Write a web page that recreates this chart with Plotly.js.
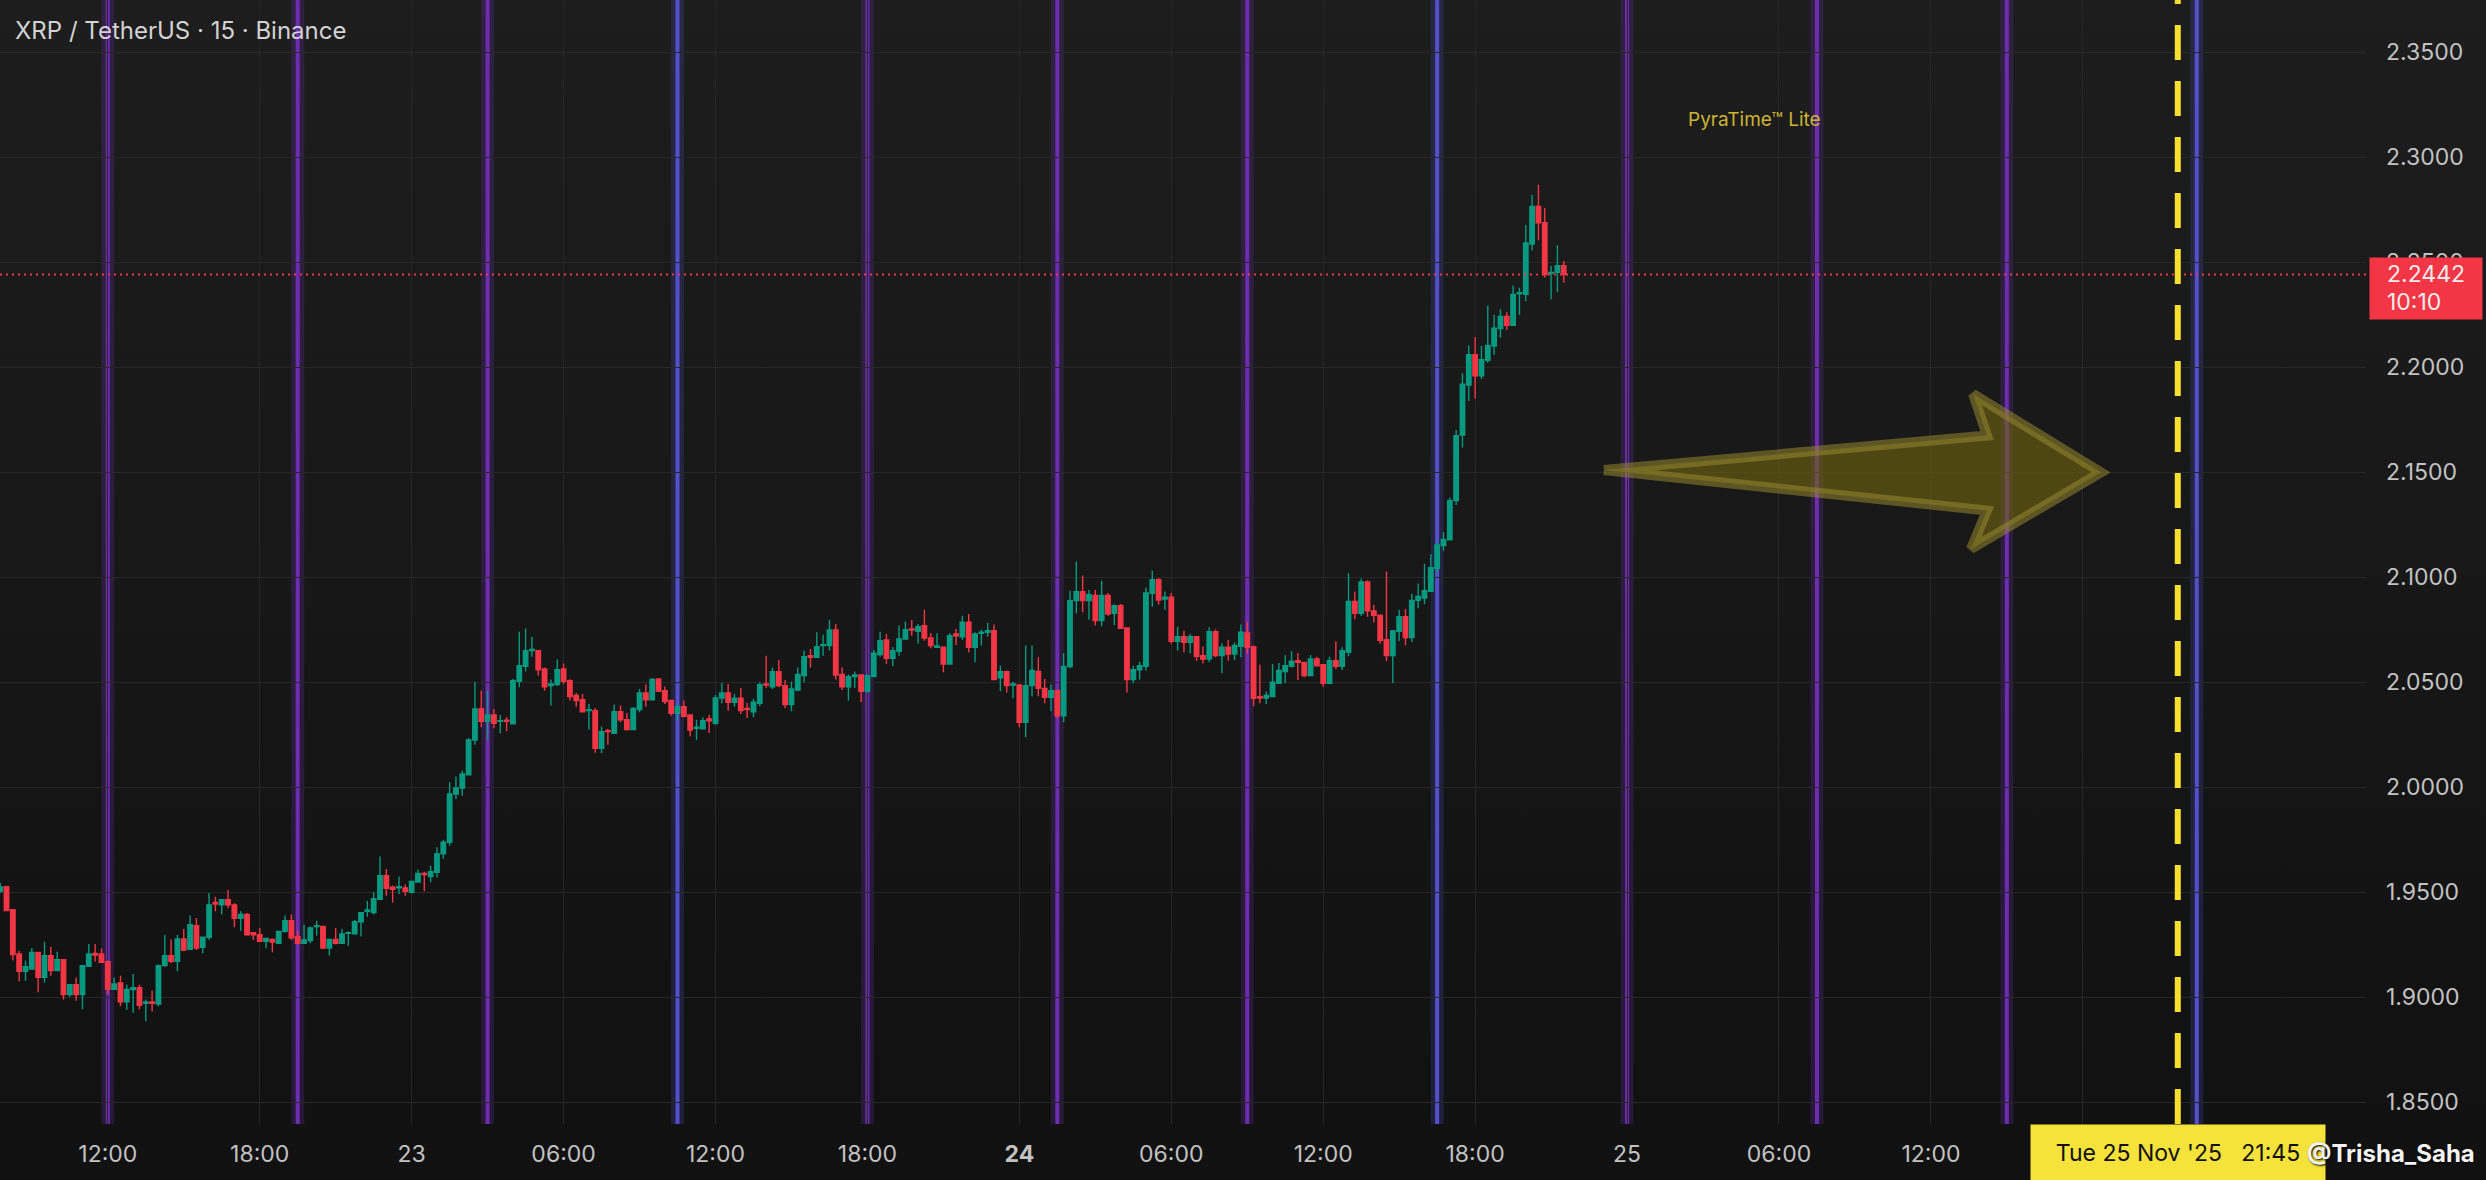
<!DOCTYPE html>
<html><head><meta charset="utf-8">
<script src="https://cdn.plot.ly/plotly-3.0.1.min.js"></script>
<style>
html,body{margin:0;padding:0;width:2486px;height:1180px;overflow:hidden;
background:linear-gradient(180deg,#1d1d1d 0%,#181818 45%,#121212 85%,#111111 100%);}
#chart{width:2486px;height:1180px}
</style></head><body><div id="chart"></div>
<script>
// ---- data: 15-minute XRP/USDT candles, first candle 22 Nov 2025 07:45 ----
const firstCandle = '2025-11-22T07:45:00Z';
const candleMinutes = 15;
const openP = [1.9505,1.9527,1.9417,1.9206,1.9124,1.9135,1.9213,1.9095,1.9198,1.9127,1.9179,1.9013,1.9060,1.9013,1.9148,1.9209,1.9206,1.9170,1.9038,1.9068,1.8979,1.9037,1.9046,1.8971,1.8978,1.8968,1.9151,1.9198,1.9171,1.9278,1.9229,1.9341,1.9238,1.9286,1.9452,1.9441,1.9465,1.9440,1.9376,1.9394,1.9308,1.9298,1.9267,1.9276,1.9257,1.9314,1.9365,1.9289,1.9257,1.9270,1.9337,1.9337,1.9235,1.9275,1.9257,1.9305,1.9302,1.9360,1.9410,1.9403,1.9467,1.9579,1.9524,1.9521,1.9521,1.9500,1.9549,1.9590,1.9575,1.9595,1.9683,1.9738,1.9968,1.9997,2.0060,2.0225,2.0373,2.0314,2.0344,2.0314,2.0320,2.0302,2.0505,2.0576,2.0651,2.0651,2.0563,2.0484,2.0489,2.0563,2.0508,2.0437,2.0417,2.0365,2.0365,2.0186,2.0270,2.0257,2.0360,2.0322,2.0275,2.0370,2.0449,2.0417,2.0516,2.0460,2.0413,2.0352,2.0384,2.0344,2.0281,2.0278,2.0325,2.0305,2.0425,2.0449,2.0405,2.0424,2.0376,2.0360,2.0400,2.0492,2.0479,2.0551,2.0484,2.0394,2.0463,2.0532,2.0627,2.0619,2.0675,2.0675,2.0749,2.0537,2.0479,2.0527,2.0535,2.0457,2.0527,2.0632,2.0702,2.0614,2.0648,2.0706,2.0754,2.0743,2.0770,2.0711,2.0667,2.0667,2.0587,2.0730,2.0717,2.0786,2.0667,2.0733,2.0738,2.0746,2.0521,2.0551,2.0487,2.0487,2.0310,2.0484,2.0552,2.0471,2.0429,2.0460,2.0341,2.0575,2.0889,2.0932,2.0889,2.0913,2.0794,2.0913,2.0829,2.0865,2.0759,2.0513,2.0560,2.0576,2.0924,2.0989,2.0897,2.0905,2.0695,2.0717,2.0690,2.0717,2.0627,2.0611,2.0741,2.0627,2.0667,2.0635,2.0671,2.0735,2.0670,2.0432,2.0425,2.0432,2.0495,2.0551,2.0576,2.0603,2.0595,2.0532,2.0611,2.0584,2.0495,2.0603,2.0576,2.0643,2.0885,2.0829,2.0978,2.0840,2.0820,2.0703,2.0627,2.0743,2.0812,2.0713,2.0890,2.0901,2.0933,2.1043,2.1151,2.1178,2.1365,2.1677,2.1915,2.2060,2.1959,2.2033,2.2101,2.2184,2.2242,2.2200,2.2350,2.2347,2.2587,2.2766,2.2688,2.2447,2.2452,2.2484];
const highP = [1.9545,1.9530,1.9420,1.9222,1.9175,1.9235,1.9217,1.9265,1.9241,1.9217,1.9180,1.9060,1.9094,1.9152,1.9254,1.9254,1.9232,1.9175,1.9094,1.9103,1.9060,1.9111,1.9060,1.8989,1.9032,1.9156,1.9297,1.9275,1.9297,1.9325,1.9389,1.9378,1.9290,1.9497,1.9479,1.9468,1.9511,1.9448,1.9410,1.9402,1.9311,1.9330,1.9280,1.9280,1.9317,1.9389,1.9394,1.9317,1.9346,1.9337,1.9365,1.9341,1.9280,1.9330,1.9327,1.9314,1.9368,1.9405,1.9460,1.9500,1.9670,1.9611,1.9532,1.9575,1.9537,1.9556,1.9608,1.9598,1.9627,1.9714,1.9750,2.0024,2.0051,2.0079,2.0235,2.0503,2.0460,2.0460,2.0373,2.0344,2.0333,2.0516,2.0741,2.0756,2.0717,2.0652,2.0571,2.0513,2.0608,2.0590,2.0514,2.0449,2.0444,2.0397,2.0378,2.0289,2.0278,2.0394,2.0389,2.0354,2.0381,2.0468,2.0489,2.0521,2.0517,2.0480,2.0414,2.0394,2.0413,2.0346,2.0322,2.0333,2.0346,2.0440,2.0497,2.0492,2.0444,2.0473,2.0402,2.0421,2.0500,2.0627,2.0571,2.0606,2.0511,2.0503,2.0571,2.0651,2.0659,2.0738,2.0727,2.0798,2.0778,2.0571,2.0537,2.0552,2.0537,2.0537,2.0654,2.0741,2.0730,2.0667,2.0770,2.0789,2.0797,2.0778,2.0846,2.0735,2.0733,2.0670,2.0733,2.0754,2.0817,2.0825,2.0738,2.0751,2.0783,2.0775,2.0579,2.0556,2.0503,2.0489,2.0675,2.0675,2.0619,2.0516,2.0489,2.0463,2.0640,2.0937,2.1075,2.1008,2.0940,2.0940,2.0984,2.0925,2.0870,2.0873,2.0762,2.0579,2.0598,2.0952,2.1032,2.0997,2.0932,2.0925,2.0765,2.0746,2.0730,2.0718,2.0670,2.0762,2.0751,2.0686,2.0703,2.0690,2.0775,2.0786,2.0675,2.0584,2.0456,2.0587,2.0592,2.0630,2.0648,2.0640,2.0598,2.0630,2.0622,2.0586,2.0622,2.0695,2.0667,2.1019,2.0932,2.0994,2.0986,2.0869,2.0822,2.1028,2.0749,2.0845,2.0849,2.0922,2.0970,2.1064,2.1110,2.1171,2.1215,2.1379,2.1701,2.1972,2.2104,2.2144,2.2101,2.2294,2.2250,2.2278,2.2262,2.2390,2.2379,2.2677,2.2820,2.2869,2.2758,2.2482,2.2581,2.2506];
const lowP = [1.9495,1.9410,1.9175,1.9076,1.9079,1.9133,1.9024,1.9071,1.9103,1.9127,1.8990,1.9003,1.8984,1.8943,1.9148,1.9171,1.9165,1.9013,1.9035,1.8957,1.8940,1.8927,1.8943,1.8886,1.8932,1.8957,1.9146,1.9162,1.9124,1.9219,1.9225,1.9225,1.9210,1.9273,1.9410,1.9394,1.9424,1.9333,1.9317,1.9294,1.9273,1.9265,1.9233,1.9214,1.9254,1.9308,1.9273,1.9251,1.9255,1.9257,1.9294,1.9230,1.9198,1.9252,1.9254,1.9246,1.9298,1.9290,1.9384,1.9394,1.9465,1.9484,1.9451,1.9492,1.9484,1.9495,1.9546,1.9505,1.9548,1.9571,1.9660,1.9722,1.9944,1.9960,2.0056,2.0203,2.0286,2.0225,2.0281,2.0257,2.0267,2.0300,2.0476,2.0552,2.0622,2.0532,2.0460,2.0389,2.0484,2.0492,2.0413,2.0384,2.0358,2.0275,2.0165,2.0162,2.0203,2.0257,2.0310,2.0270,2.0273,2.0357,2.0384,2.0415,2.0455,2.0397,2.0341,2.0321,2.0333,2.0243,2.0225,2.0275,2.0259,2.0297,2.0400,2.0365,2.0384,2.0349,2.0330,2.0333,2.0386,2.0473,2.0468,2.0476,2.0376,2.0362,2.0457,2.0500,2.0571,2.0616,2.0627,2.0651,2.0513,2.0463,2.0413,2.0473,2.0405,2.0452,2.0524,2.0622,2.0587,2.0576,2.0627,2.0703,2.0722,2.0683,2.0698,2.0662,2.0667,2.0548,2.0584,2.0678,2.0702,2.0643,2.0595,2.0675,2.0717,2.0513,2.0457,2.0452,2.0424,2.0286,2.0238,2.0433,2.0433,2.0400,2.0362,2.0330,2.0310,2.0567,2.0829,2.0833,2.0798,2.0770,2.0767,2.0817,2.0773,2.0756,2.0452,2.0495,2.0513,2.0556,2.0860,2.0870,2.0846,2.0683,2.0651,2.0643,2.0638,2.0603,2.0590,2.0595,2.0619,2.0543,2.0603,2.0606,2.0619,2.0635,2.0386,2.0400,2.0397,2.0429,2.0492,2.0495,2.0571,2.0511,2.0524,2.0530,2.0575,2.0479,2.0495,2.0563,2.0558,2.0624,2.0800,2.0816,2.0812,2.0785,2.0684,2.0600,2.0495,2.0697,2.0676,2.0692,2.0853,2.0872,2.0930,2.1022,2.1126,2.1175,2.1344,2.1618,2.1840,2.1851,2.1944,2.2020,2.2060,2.2141,2.2178,2.2198,2.2249,2.2315,2.2556,2.2605,2.2428,2.2323,2.2358,2.2402];
const closeP = [1.9525,1.9413,1.9203,1.9124,1.9146,1.9213,1.9095,1.9198,1.9127,1.9179,1.9013,1.9060,1.9013,1.9151,1.9206,1.9201,1.9167,1.9038,1.9063,1.8979,1.9037,1.9046,1.8962,1.8978,1.8971,1.9151,1.9198,1.9171,1.9278,1.9225,1.9346,1.9235,1.9286,1.9440,1.9444,1.9465,1.9440,1.9376,1.9394,1.9298,1.9298,1.9267,1.9280,1.9263,1.9314,1.9365,1.9283,1.9257,1.9273,1.9330,1.9341,1.9235,1.9275,1.9257,1.9302,1.9308,1.9360,1.9403,1.9416,1.9470,1.9579,1.9519,1.9514,1.9527,1.9505,1.9552,1.9590,1.9584,1.9598,1.9683,1.9738,1.9968,1.9997,2.0063,2.0225,2.0373,2.0314,2.0344,2.0305,2.0317,2.0314,2.0508,2.0579,2.0651,2.0656,2.0560,2.0479,2.0492,2.0560,2.0505,2.0432,2.0413,2.0360,2.0370,2.0186,2.0265,2.0265,2.0360,2.0321,2.0275,2.0376,2.0449,2.0417,2.0513,2.0457,2.0408,2.0352,2.0384,2.0338,2.0273,2.0286,2.0317,2.0317,2.0425,2.0449,2.0405,2.0424,2.0365,2.0370,2.0405,2.0489,2.0487,2.0551,2.0484,2.0394,2.0468,2.0537,2.0622,2.0619,2.0670,2.0679,2.0749,2.0535,2.0479,2.0527,2.0535,2.0457,2.0532,2.0638,2.0698,2.0614,2.0651,2.0706,2.0751,2.0749,2.0765,2.0711,2.0675,2.0673,2.0587,2.0722,2.0722,2.0786,2.0667,2.0730,2.0738,2.0746,2.0513,2.0551,2.0484,2.0492,2.0310,2.0484,2.0556,2.0471,2.0429,2.0460,2.0341,2.0575,2.0889,2.0932,2.0889,2.0917,2.0794,2.0913,2.0825,2.0865,2.0757,2.0513,2.0560,2.0579,2.0925,2.0989,2.0892,2.0905,2.0695,2.0717,2.0690,2.0717,2.0624,2.0611,2.0741,2.0627,2.0667,2.0635,2.0675,2.0738,2.0667,2.0424,2.0425,2.0437,2.0500,2.0556,2.0579,2.0600,2.0595,2.0532,2.0611,2.0579,2.0495,2.0603,2.0576,2.0651,2.0885,2.0829,2.0978,2.0840,2.0819,2.0700,2.0627,2.0745,2.0812,2.0713,2.0890,2.0909,2.0936,2.1046,2.1154,2.1180,2.1365,2.1674,2.1919,2.2060,2.1959,2.2036,2.2104,2.2186,2.2242,2.2200,2.2347,2.2355,2.2592,2.2766,2.2688,2.2442,2.2452,2.2484,2.2442];

// PyraTime cycle lines (p = purple, b = blue)
const cycleTimes = ['2025-11-22 12:00','2025-11-22 19:30','2025-11-23 03:00','2025-11-23 10:30','2025-11-23 18:00','2025-11-24 01:30','2025-11-24 09:00','2025-11-24 16:30','2025-11-25 00:00','2025-11-25 07:30','2025-11-25 15:00','2025-11-25 22:30'];
const cycleKinds = ['p','p','p','b','p','p','p','b','p','p','p','b'];

// time axis labels (the 18:00 label of the 25th sits under the date marker)
const tickTimes = ['2025-11-22 12:00','2025-11-22 18:00','2025-11-23 00:00','2025-11-23 06:00','2025-11-23 12:00','2025-11-23 18:00','2025-11-24 00:00','2025-11-24 06:00','2025-11-24 12:00','2025-11-24 18:00','2025-11-25 00:00','2025-11-25 06:00','2025-11-25 12:00','2025-11-25 18:00'];
const tickLabels = ['12:00','18:00','23','06:00','12:00','18:00','<b>24</b>','06:00','12:00','18:00','25','06:00','12:00',''];
const priceTicks = [1.85,1.90,1.95,2.00,2.05,2.10,2.15,2.20,2.25,2.30,2.35];

// drawn arrow (time, price vertices)
const arrowTimes = ['2025-11-24 23:05','2025-11-25 14:13','2025-11-25 13:40','2025-11-25 18:43','2025-11-25 13:35','2025-11-25 14:13','2025-11-24 23:05'];
const arrowPrices = [2.1511,2.1675,2.1873,2.1500,2.1135,2.1318,2.1511];

const lastPrice = 2.2442;
const countdown = '10:10';
const markerTime = '2025-11-25 21:45';
const markerLabel = "Tue 25 Nov '25&nbsp;&nbsp;&nbsp;21:45";
const labelTime = '2025-11-25 05:03';
const labelPrice = 2.3182;
const xRange = ['2025-11-22 07:44:35','2025-11-26 05:11'];
const yRange = [1.83967, 2.37490];

// ---- build ----
const t0 = Date.parse(firstCandle);
const times = openP.map((_, i) => new Date(t0 + i * candleMinutes * 60000).toISOString().slice(0,16).replace('T',' '));

const FONT = 'Inter, "Open Sans", sans-serif';
const GREEN = '#089981', RED = '#f23645';

const traces = [
  {
    type: 'candlestick', x: times, open: openP, high: highP, low: lowP, close: closeP,
    increasing: {line: {color: GREEN, width: 1.4}, fillcolor: GREEN},
    decreasing: {line: {color: RED, width: 1.4}, fillcolor: RED},
    whiskerwidth: 0, hoverinfo: 'skip', showlegend: false
  },
  {
    type: 'scatter', mode: 'lines', x: arrowTimes, y: arrowPrices, fill: 'toself',
    fillcolor: 'rgba(112,100,18,0.62)', line: {color: 'rgba(150,136,45,0.55)', width: 10},
    hoverinfo: 'skip', showlegend: false
  }
];

const shapes = [];
cycleTimes.forEach((t, i) => {
  const blue = cycleKinds[i] === 'b';
  shapes.push({type: 'line', xref: 'x', yref: 'paper', x0: t, x1: t, y0: 0, y1: 1, layer: 'between',
    line: {color: blue ? 'rgba(80,80,215,0.22)' : 'rgba(120,48,190,0.22)', width: 13}});
  shapes.push({type: 'line', xref: 'x', yref: 'paper', x0: t, x1: t, y0: 0, y1: 1, layer: 'between',
    line: {color: blue ? '#5450cc' : '#6c2db0', width: 4}});
});
shapes.push({type: 'line', xref: 'paper', yref: 'y', x0: 0, x1: 1, y0: lastPrice, y1: lastPrice, layer: 'above',
  line: {color: RED, width: 2, dash: '2px,4px'}});
shapes.push({type: 'line', xref: 'x', yref: 'paper', x0: markerTime, x1: markerTime, y0: 0, y1: 1, layer: 'above',
  line: {color: '#f6df2e', width: 6, dash: '35px,21px'}});

const annotations = [
  {xref: 'paper', yref: 'paper', x: 0, y: 1, xanchor: 'left', yanchor: 'middle', xshift: 13, yshift: -30,
   text: 'XRP / TetherUS · 15 · Binance', showarrow: false, font: {family: FONT, size: 24, color: '#d2d2d2'}},
  {xref: 'x', yref: 'y', x: labelTime, y: labelPrice, text: 'PyraTime™ Lite', showarrow: false,
   font: {family: FONT, size: 19, color: '#cbb42f'}},
  {xref: 'paper', yref: 'y', x: 1, y: lastPrice, xanchor: 'left', yanchor: 'top', xshift: 3, yshift: 17,
   text: ' ', width: 112, height: 61, bgcolor: RED, borderpad: 0, showarrow: false, font: {size: 10}},
  {xref: 'paper', yref: 'y', x: 1, y: lastPrice, xanchor: 'left', yanchor: 'middle', xshift: 19, yshift: 0,
   text: lastPrice.toFixed(4), showarrow: false, font: {family: FONT, size: 23, color: '#ececec'}},
  {xref: 'paper', yref: 'y', x: 1, y: lastPrice, xanchor: 'left', yanchor: 'middle', xshift: 19, yshift: -28,
   text: countdown, showarrow: false, font: {family: FONT, size: 23, color: '#ececec'}},
  {xref: 'x', yref: 'paper', x: markerTime, y: 0, xanchor: 'center', yanchor: 'top', yshift: 0,
   text: markerLabel, width: 294, height: 56, bgcolor: '#f5e23a', borderpad: 0, showarrow: false,
   font: {family: FONT, size: 23, color: '#111111'}},
  {xref: 'paper', yref: 'paper', x: 1, y: 0, xanchor: 'right', yanchor: 'middle', xshift: 111, yshift: -29,
   text: '<b>@Trisha_Saha</b>', showarrow: false, font: {family: FONT, size: 24, color: '#f4f4f4', shadow: '1px 1px 2px #000'}}
];

const layout = {
  width: 2486, height: 1180,
  margin: {l: 0, r: 120, t: 0, b: 56, pad: 0},
  paper_bgcolor: 'rgba(0,0,0,0)', plot_bgcolor: 'rgba(0,0,0,0)',
  showlegend: false, dragmode: false, hovermode: false,
  boxgap: 0.3, boxgroupgap: 0,
  xaxis: {
    type: 'date', range: xRange, rangeslider: {visible: false},
    tickmode: 'array', tickvals: tickTimes, ticktext: tickLabels,
    showgrid: true, gridcolor: '#272727', gridwidth: 1, zeroline: false, showline: false,
    ticks: '', ticklabelstandoff: 14,
    tickfont: {family: FONT, size: 23, color: '#c2c2c2'}
  },
  yaxis: {
    side: 'right', range: yRange, tickmode: 'array', tickvals: priceTicks,
    ticktext: priceTicks.map(v => v.toFixed(4)),
    showgrid: true, gridcolor: '#272727', gridwidth: 1, zeroline: false, showline: false,
    ticks: '', ticklabelstandoff: 19,
    tickfont: {family: FONT, size: 23, color: '#c2c2c2'}
  },
  shapes: shapes, annotations: annotations
};

Plotly.newPlot('chart', traces, layout, {displayModeBar: false, staticPlot: true});
</script></body></html>
